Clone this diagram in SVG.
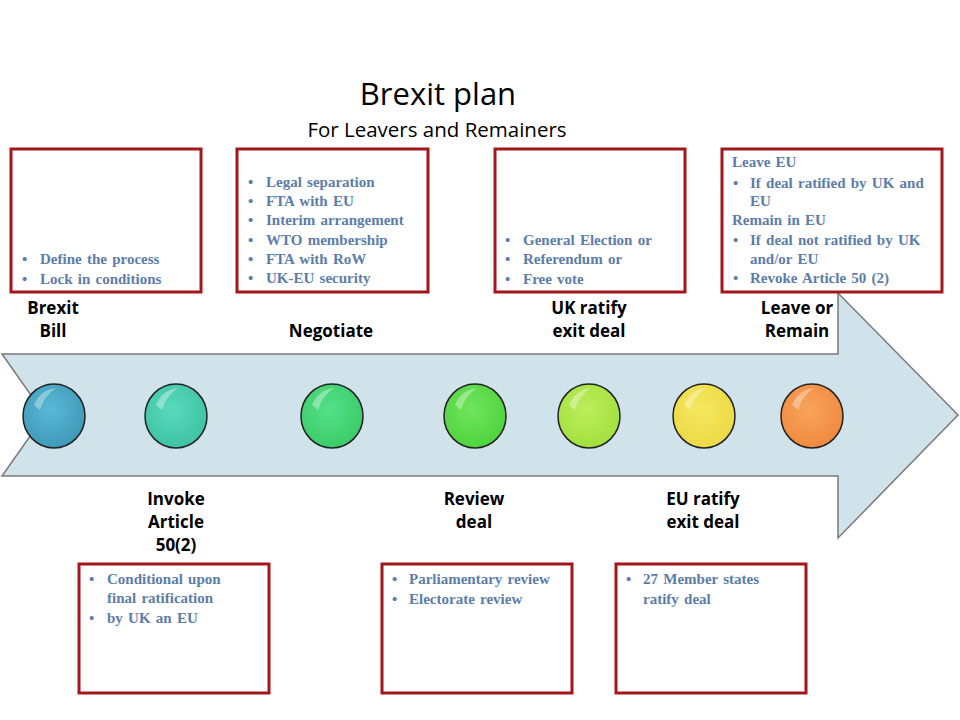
<svg xmlns="http://www.w3.org/2000/svg" width="960" height="720" viewBox="0 0 960 720">
<style>
.box{fill:#fff;stroke:#a3161c;stroke-width:3}
.bt{font-family:"Liberation Serif",serif;font-weight:bold;font-size:15px;word-spacing:1.5px;fill:#5b7dab}
.lbl{font-family:"Open Sans","Liberation Sans",sans-serif;font-weight:bold;font-size:17px;fill:#000;text-anchor:middle}
.dot{stroke:#222;stroke-width:1.5}
.gl{fill:#fff;opacity:0.35}
</style>
<defs>
<radialGradient id="g1" cx="0.45" cy="0.4" r="0.6"><stop offset="0" stop-color="#5ab8d6"/><stop offset="1" stop-color="#3f9ab8"/></radialGradient>
<radialGradient id="g2" cx="0.45" cy="0.4" r="0.6"><stop offset="0" stop-color="#5ad9bf"/><stop offset="1" stop-color="#3ec3a3"/></radialGradient>
<radialGradient id="g3" cx="0.45" cy="0.4" r="0.6"><stop offset="0" stop-color="#55e088"/><stop offset="1" stop-color="#3bcc6a"/></radialGradient>
<radialGradient id="g4" cx="0.45" cy="0.4" r="0.6"><stop offset="0" stop-color="#70e45e"/><stop offset="1" stop-color="#4fd43e"/></radialGradient>
<radialGradient id="g5" cx="0.45" cy="0.4" r="0.6"><stop offset="0" stop-color="#bdee5c"/><stop offset="1" stop-color="#a2e03e"/></radialGradient>
<radialGradient id="g6" cx="0.45" cy="0.4" r="0.6"><stop offset="0" stop-color="#f5e860"/><stop offset="1" stop-color="#ecd944"/></radialGradient>
<radialGradient id="g7" cx="0.45" cy="0.4" r="0.6"><stop offset="0" stop-color="#f8a45a"/><stop offset="1" stop-color="#f08a40"/></radialGradient>
</defs>
<rect width="960" height="720" fill="#fff"/>
<text x="438" y="105" font-family="Open Sans,Liberation Sans,sans-serif" font-size="31" text-anchor="middle">Brexit plan</text>
<text x="437" y="137" font-family="Open Sans,Liberation Sans,sans-serif" font-size="20.5" text-anchor="middle">For Leavers and Remainers</text>
<g id="arrow">
<path d="M2,354 L838,354 L838,293 L958,415 L838,538 L838,476 L2,476 L45,415 Z" fill="#d0e2ea" stroke="#7a7a7a" stroke-width="1.5"/>
</g>
<g id="connectors"></g>
<g id="circles">
<g id="c1"><ellipse class="dot" cx="54" cy="416" rx="31" ry="32" fill="url(#g1)"/><path class="gl" d="M34,405 Q40,390 56,388 Q44,396 40,410 Z"/></g>
<g id="c2"><ellipse class="dot" cx="176" cy="416" rx="31" ry="32" fill="url(#g2)"/><path class="gl" d="M156,405 Q162,390 178,388 Q166,396 162,410 Z"/></g>
<g id="c3"><ellipse class="dot" cx="332" cy="416" rx="31" ry="32" fill="url(#g3)"/><path class="gl" d="M312,405 Q318,390 334,388 Q322,396 318,410 Z"/></g>
<g id="c4"><ellipse class="dot" cx="475" cy="416" rx="31" ry="32" fill="url(#g4)"/><path class="gl" d="M455,405 Q461,390 477,388 Q465,396 461,410 Z"/></g>
<g id="c5"><ellipse class="dot" cx="589" cy="416" rx="31" ry="32" fill="url(#g5)"/><path class="gl" d="M569,405 Q575,390 591,388 Q579,396 575,410 Z"/></g>
<g id="c6"><ellipse class="dot" cx="704" cy="416" rx="31" ry="32" fill="url(#g6)"/><path class="gl" d="M684,405 Q690,390 706,388 Q694,396 690,410 Z"/></g>
<g id="c7"><ellipse class="dot" cx="812" cy="416" rx="31" ry="32" fill="url(#g7)"/><path class="gl" d="M792,405 Q798,390 814,388 Q802,396 798,410 Z"/></g>
</g>
<g id="labels">
<text class="lbl" x="53" y="314">Brexit</text><text class="lbl" x="53" y="337">Bill</text>
<text class="lbl" x="331" y="337">Negotiate</text>
<text class="lbl" x="589" y="314">UK ratify</text><text class="lbl" x="589" y="337">exit deal</text>
<text class="lbl" x="797" y="314">Leave or</text><text class="lbl" x="797" y="337">Remain</text>
<text class="lbl" x="176" y="505">Invoke</text><text class="lbl" x="176" y="528">Article</text><text class="lbl" x="176" y="551">50(2)</text>
<text class="lbl" x="474" y="505">Review</text><text class="lbl" x="474" y="528">deal</text>
<text class="lbl" x="703" y="505">EU ratify</text><text class="lbl" x="703" y="528">exit deal</text>
</g>
<g id="box1"><rect class="box" x="11" y="149" width="190" height="143"/>
<text class="bt"><tspan x="22" y="264">•</tspan><tspan x="40" y="264">Define the process</tspan><tspan x="22" y="284">•</tspan><tspan x="40" y="284">Lock in conditions</tspan></text></g>
<g id="box2"><rect class="box" x="237" y="149" width="191" height="143"/>
<text class="bt"><tspan x="248" y="187">•</tspan><tspan x="266" y="187">Legal separation</tspan><tspan x="248" y="206">•</tspan><tspan x="266" y="206">FTA with  EU</tspan><tspan x="248" y="225">•</tspan><tspan x="266" y="225">Interim  arrangement</tspan><tspan x="248" y="245">•</tspan><tspan x="266" y="245">WTO  membership</tspan><tspan x="248" y="264">•</tspan><tspan x="266" y="264">FTA with  RoW</tspan><tspan x="248" y="283">•</tspan><tspan x="266" y="283">UK-EU  security</tspan></text></g>
<g id="box3"><rect class="box" x="495" y="149" width="190" height="143"/>
<text class="bt"><tspan x="505" y="245">•</tspan><tspan x="523" y="245">General Election  or</tspan><tspan x="505" y="264">•</tspan><tspan x="523" y="264">Referendum  or</tspan><tspan x="505" y="284">•</tspan><tspan x="523" y="284">Free vote</tspan></text></g>
<g id="box4"><rect class="box" x="722" y="149" width="220" height="143"/>
<text class="bt"><tspan x="732" y="167">Leave EU</tspan><tspan x="733" y="188">•</tspan><tspan x="750" y="188">If deal ratified  by UK and</tspan><tspan x="750" y="206">EU</tspan><tspan x="732" y="225">Remain in  EU</tspan><tspan x="733" y="245">•</tspan><tspan x="750" y="245">If deal not ratified  by UK</tspan><tspan x="750" y="264">and/or  EU</tspan><tspan x="733" y="283">•</tspan><tspan x="750" y="283">Revoke Article 50 (2)</tspan></text></g>
<g id="box5"><rect class="box" x="79" y="564" width="190" height="129"/>
<text class="bt"><tspan x="89" y="584">•</tspan><tspan x="107" y="584">Conditional  upon</tspan><tspan x="107" y="603">final ratification</tspan><tspan x="89" y="623">•</tspan><tspan x="107" y="623">by UK an EU</tspan></text></g>
<g id="box6"><rect class="box" x="382" y="564" width="190" height="129"/>
<text class="bt"><tspan x="392" y="584">•</tspan><tspan x="409" y="584">Parliamentary  review</tspan><tspan x="392" y="604">•</tspan><tspan x="409" y="604">Electorate review</tspan></text></g>
<g id="box7"><rect class="box" x="616" y="564" width="190" height="129"/>
<text class="bt"><tspan x="626" y="584">•</tspan><tspan x="643" y="584">27 Member states</tspan><tspan x="643" y="604">ratify  deal</tspan></text></g>
</svg>
